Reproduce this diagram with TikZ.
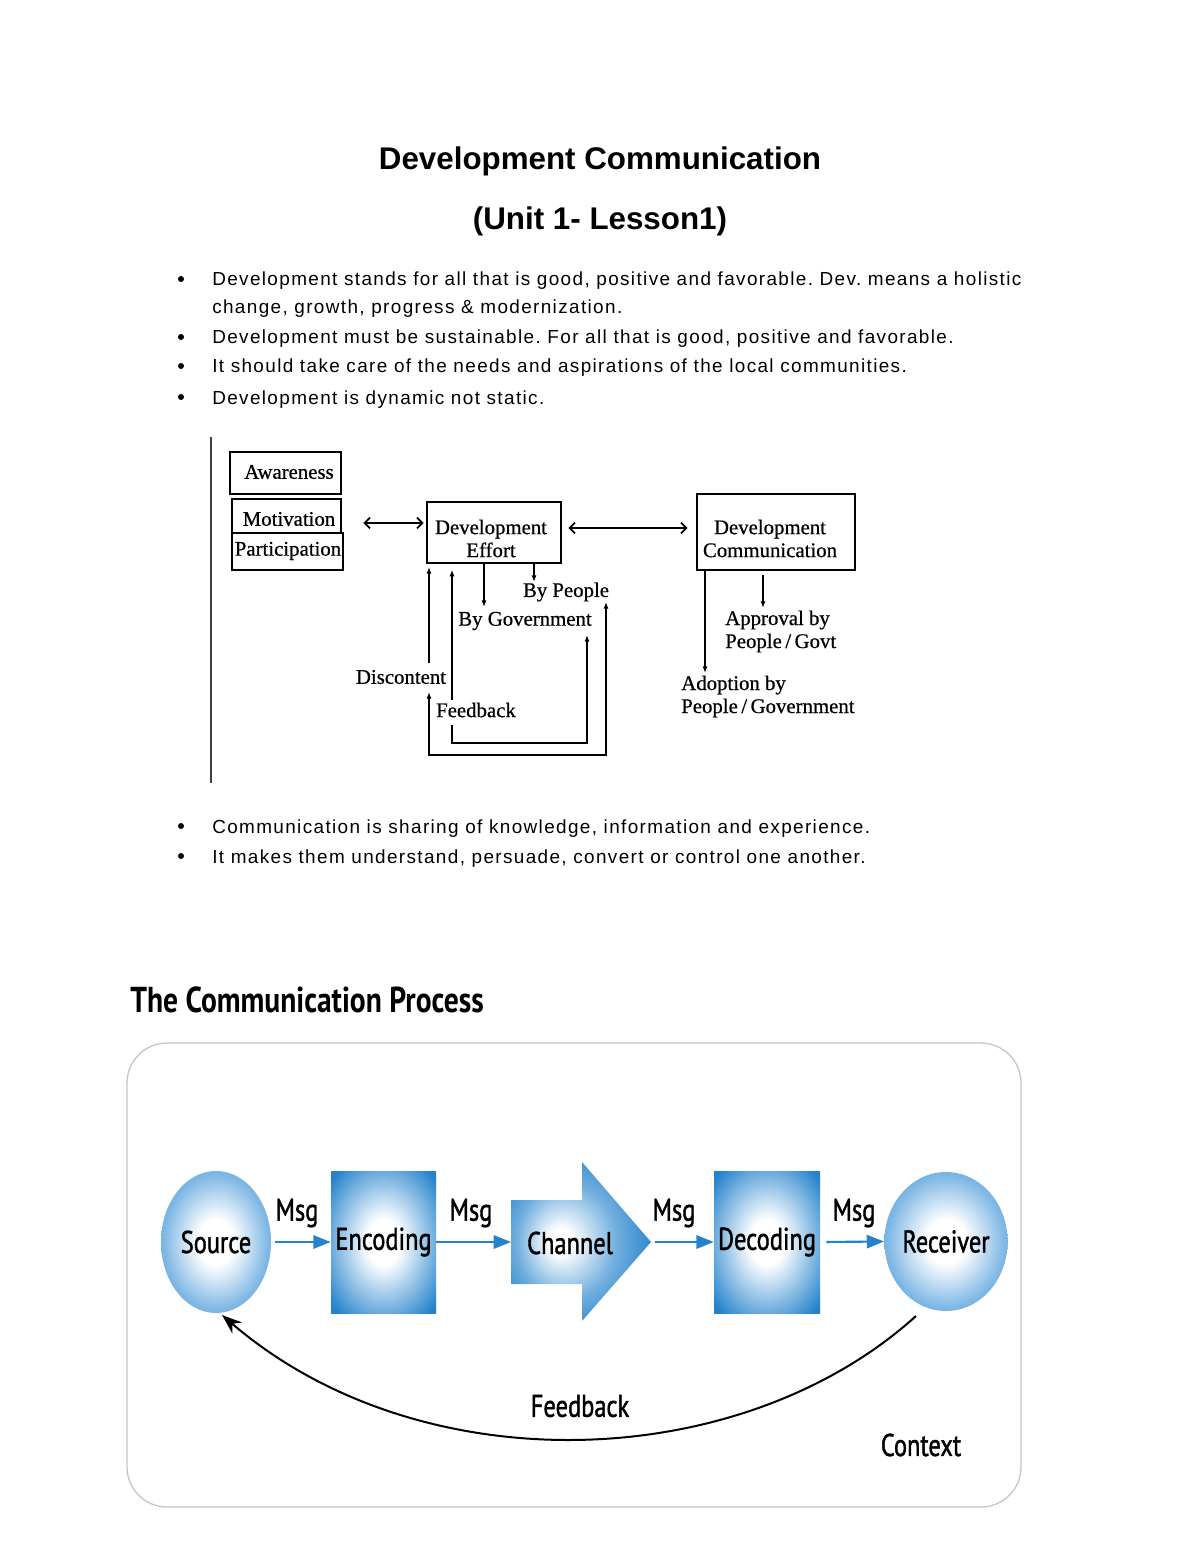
\documentclass[tikz,border=0pt]{standalone}
\usepackage{fontspec}
\setmainfont{Liberation Sans}
\newfontfamily\bodyfont[LetterSpace=7.2]{Liberation Sans}
\newfontfamily\serifd[FakeBold=0.6]{Liberation Serif}
\newfontfamily\condsans[FakeStretch=0.78,FakeBold=1.3]{PT Sans}
\newfontfamily\condhead[FakeStretch=0.82]{PT Sans}
\usetikzlibrary{arrows.meta,shapes.geometric}
\definecolor{myblue}{RGB}{36,131,204}
\definecolor{ballblue}{RGB}{58,145,214}
\pgfdeclareradialshading{glowball}{\pgfpoint{0bp}{0bp}}{color(0bp)=(white); color(8bp)=(white); color(23bp)=(ballblue!62); color(34bp)=(ballblue); color(50bp)=(ballblue)}
\pgfdeclareradialshading{glowbox}{\pgfpoint{0bp}{0bp}}{color(0bp)=(white); color(8bp)=(white); color(23bp)=(myblue!60); color(33bp)=(myblue); color(50bp)=(myblue)}
\pgfdeclareradialshading{glowarrow}{\pgfpoint{-8bp}{0bp}}{color(0bp)=(white); color(4bp)=(white); color(18bp)=(myblue!65); color(30bp)=(myblue); color(50bp)=(myblue)}
\tikzset{
  bul/.style={circle, fill=black, inner sep=0pt, minimum size=4.5pt},
  body/.style={anchor=base west, inner sep=0pt, font=\bodyfont\fontsize{14.2}{17}\selectfont},
  box/.style={draw, line width=2pt, inner sep=0pt},
  dlbl/.style={inner sep=0pt, font=\serifd\fontsize{15.6}{17.25}\selectfont},
  thin/.style={line width=1.4pt},
  tip/.style={thin, -{Latex[length=5pt,width=3.8pt]}},
  dbl/.style={line width=1.4pt, {Straight Barb[length=4pt,width=8pt]}-{Straight Barb[length=4pt,width=8pt]}},
  lbl/.style={inner sep=0pt, font=\condsans\fontsize{23.5}{26}\selectfont},
  ball/.style={ellipse, shade, shading=glowball, inner sep=0pt, lbl},
  sq/.style={rectangle, shade, shading=glowbox, inner sep=0pt, lbl},
  msg/.style={myblue, line width=1.6pt, -{Triangle[length=13pt,width=10pt]}}
}
\begin{document}
\frenchspacing
\begin{tikzpicture}[x=0.75pt, y=-0.75pt]
\useasboundingbox (0,0) rectangle (1200,1553);
\fill[white] (0,0) rectangle (1200,1553);

% title
\node[font=\bfseries\fontsize{23.5}{28}\selectfont, inner sep=0pt] (title) at (600,161) {Development Communication};
\node[font=\bfseries\fontsize{23.5}{28}\selectfont, inner sep=0pt] (unit) at (600,221) {(Unit 1- Lesson1)};

% bullets
\node[bul] (b1) at (181,279) {};
\node[body] (t1) at (212,285) {Development stands for all that is good, positive and favorable. Dev. means a holistic};
\node[body] (t1b) at (212,313) {change, growth, progress \& modernization.};
\node[bul] (b2) at (181,337) {};
\node[body] (t2) at (212,343) {Development must be sustainable. For all that is good, positive and favorable.};
\node[bul] (b3) at (181,366) {};
\node[body] (t3) at (212,372) {It should take care of the needs and aspirations of the local communities.};
\node[bul] (b4) at (181,397) {};
\node[body] (t4) at (212,404) {Development is dynamic not static.};
\node[bul] (b5) at (181,826) {};
\node[body] (t5) at (212,833) {Communication is sharing of knowledge, information and experience.};
\node[bul] (b6) at (181,856) {};
\node[body] (t6) at (212,863) {It makes them understand, persuade, convert or control one another.};

% development diagram
\coordinate (vtop) at (211,437);
\coordinate (vbot) at (211,783);
\draw[line width=1.2pt, black!75] (vtop) -- (vbot);

\node[box, minimum width=83.25pt, minimum height=31.5pt] (aw) at (285.5,473) {};
\node[dlbl] (awt) at (289,472) {Awareness};
\node[box, minimum width=81.75pt, minimum height=25.5pt] (mo) at (286.5,516) {};
\node[dlbl] (mot) at (289,519) {Motivation};
\node[box, minimum width=83.25pt, minimum height=27.75pt] (pa) at (287.5,551.5) {};
\node[dlbl] (pat) at (288,551) {Participation};
\node[box, minimum width=100.5pt, minimum height=45.75pt] (de) at (494,532.5) {};
\node[dlbl, align=center] (det) at (491,538.5) {Development\\Effort};
\node[box, minimum width=118.5pt, minimum height=57pt] (dc) at (776,532) {};
\node[dlbl, align=center] (dct) at (770,538.5) {Development\\Communication};

\coordinate (y523) at (0,523);
\coordinate (y528) at (0,528);
\draw[dbl, shorten <=15.75pt, shorten >=1.5pt] (mo.east |- y523) -- (de.west |- y523);
\draw[dbl, shorten <=4.5pt, shorten >=6pt] (de.east |- y528) -- (dc.west |- y528);

\node[dlbl] (ppl) at (566,592) {By People};
\node[dlbl] (gov) at (525,621) {By Government};
\node[dlbl] (dis) at (401,677) {Discontent};
\node[dlbl] (fb) at (476,710) {Feedback};
\node[dlbl, align=left, anchor=west] (appr) at (725,631.5) {Approval by\\People\,/\,Govt};
\node[dlbl, align=left, anchor=west] (adop) at (681,696.5) {Adoption by\\People\,/\,Government};

\coordinate (x484) at (484,0);
\coordinate (x534) at (534,0);
\coordinate (x429) at (429,0);
\coordinate (x452) at (452,0);
\coordinate (x705) at (705,0);
\coordinate (g1) at (484,607);
\coordinate (p1) at (534,582);
\draw[tip] (de.south -| x484) -- (g1);
\draw[tip] (de.south -| x534) -- (p1);

\coordinate (d1) at (429,692);
\coordinate (d2) at (429,755);
\coordinate (d3) at (606,755);
\coordinate (d4) at (606,602);
\draw[thin, {Latex[length=5pt,width=3.8pt]}-{Latex[length=5pt,width=3.8pt]}] (d1) -- (d2) -- (d3) -- (d4);
\coordinate (d5) at (429,663);
\draw[tip, shorten >=2pt] (d5) -- (de.south -| x429);

\coordinate (f1) at (452,725);
\coordinate (f2) at (452,743);
\coordinate (f3) at (587,743);
\coordinate (f4) at (587,635);
\draw[tip] (f1) -- (f2) -- (f3) -- (f4);
\coordinate (f5) at (452,700);
\draw[tip, shorten >=4pt] (f5) -- (de.south -| x452);

\coordinate (a1) at (705,673);
\draw[tip] (dc.south -| x705) -- (a1);
\coordinate (a2) at (763,575);
\coordinate (a3) at (763,608);
\draw[tip] (a2) -- (a3);

% communication process
\node[font=\condhead\bfseries\fontsize{27}{32}\selectfont, anchor=west, inner sep=0pt] (cp) at (130,1000) {The Communication Process};
\draw[black!22, line width=1pt, rounded corners=30pt] (127,1043) rectangle (1021,1507);

\node[ball, minimum width=82.5pt, minimum height=106.5pt] (src) at (216,1242) {Source};
\node[sq, minimum width=78.75pt, minimum height=106.5pt] (enc) at (383.5,1242) {Encoding};
\shade[shading=glowarrow] (511,1200) -- (582,1200) -- (582,1162) -- (651,1242) -- (582,1321) -- (582,1284) -- (511,1284) -- cycle;
\node[lbl] (chn) at (570,1243) {Channel};
\node[sq, minimum width=79.5pt, minimum height=106.5pt] (dec) at (767,1242) {Decoding};
\node[ball, minimum width=81pt, minimum height=104.25pt] (rcv) at (946,1241.5) {Receiver};

\coordinate (chtail) at (511,1242);
\coordinate (chtip) at (651,1242);
\draw[msg, shorten <=3pt] (src.east) -- (enc.west);
\draw[msg] (enc.east) -- (chtail);
\draw[msg, shorten <=3pt] (chtip) -- (dec.west);
\draw[msg, shorten <=4.5pt] (dec.east) -- (rcv.west);

\node[lbl] (m1) at (297,1213) {Msg};
\node[lbl] (m2) at (471,1213) {Msg};
\node[lbl] (m3) at (674,1213) {Msg};
\node[lbl] (m4) at (854,1213) {Msg};

\coordinate (fbs) at (916,1316);
\coordinate (fbe) at (222,1315);
\draw[line width=1.5pt, -{Stealth[length=15pt,width=11pt]}] (fbs) .. controls (740,1475) and (420,1485) .. (fbe);
\node[lbl] (fbl) at (580,1406) {Feedback};
\node[lbl] (ctx) at (921,1445) {Context};
\end{tikzpicture}
\end{document}
